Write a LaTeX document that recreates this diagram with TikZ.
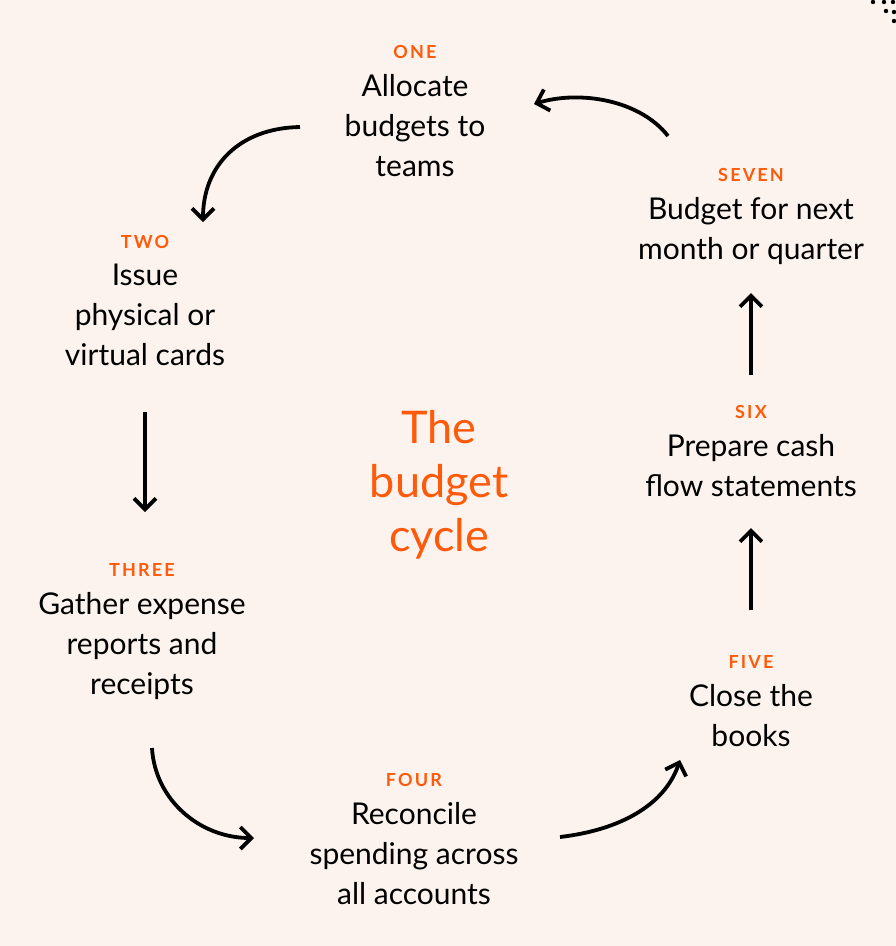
\documentclass[tikz,border=0pt]{standalone}
\usepackage{fontspec}
\setmainfont{Lato}
\usetikzlibrary{arrows.meta}
\definecolor{bg}{HTML}{FDF3EE}
\definecolor{orng}{HTML}{FF5A0A}
\begin{document}
\begin{tikzpicture}[x=1pt,y=-1pt,
  lbl/.style={font=\fontsize{18}{18}\selectfont\bfseries\addfontfeatures{LetterSpace=12}, text=orng, inner sep=0},
  txt/.style={font=\fontsize{30}{40}\selectfont, align=center, inner sep=0, anchor=north},
  arr/.style={line width=3.8pt, -{Straight Barb[length=11pt,width=22pt,line width=3.8pt]}}]
\fill[bg] (0,0) rectangle (896,946);
\useasboundingbox (0,0) rectangle (896,946);
\foreach \p in {(873,2),(884,2),(893,2),(886,11),(894,12),(894,21)} \fill \p circle (2.2);
\node[lbl] (l1) at (415,52) {ONE};
\node[txt] (t1) at (415,74) {Allocate\\budgets to\\teams};
\node[lbl] (l2) at (145,242) {TWO};
\node[txt] (t2) at (145,264) {Issue\\physical or\\virtual cards};
\node[lbl] (l3) at (142,570) {THREE};
\node[txt] (t3) at (142,592) {Gather expense\\reports and\\receipts};
\node[lbl] (l4) at (414,780) {FOUR};
\node[txt] (t4) at (414,802) {Reconcile\\spending across\\all accounts};
\node[lbl] (l5) at (751,662) {FIVE};
\node[txt] (t5) at (751,684) {Close the\\books};
\node[lbl] (l6) at (751,412) {SIX};
\node[txt] (t6) at (751,434) {Prepare cash\\flow statements};
\node[lbl] (l7) at (751,175) {SEVEN};
\node[txt] (t7) at (751,197) {Budget for next\\month or quarter};
\node[txt, text=orng, font=\fontsize{45}{54}\selectfont] (title) at (439,410) {The\\budget\\cycle};
\coordinate (a1s) at (300,127); \coordinate (a1e) at (203,222);
\draw[arr] (a1s) .. controls (240,128) and (203,165) .. (a1e);
\coordinate (a2s) at (145,412); \coordinate (a2e) at (145,512);
\draw[arr] (a2s) -- (a2e);
\coordinate (a3s) at (152,748); \coordinate (a3e) at (254,838);
\draw[arr] (a3s) .. controls (155,800) and (200,838) .. (a3e);
\coordinate (a4s) at (560,837); \coordinate (a4e) at (680,760);
\draw[arr] (a4s) .. controls (620,830) and (665,805) .. (a4e);
\coordinate (a5s) at (751,610); \coordinate (a5e) at (751,528);
\draw[arr] (a5s) -- (a5e);
\coordinate (a6s) at (751,375); \coordinate (a6e) at (751,293);
\draw[arr] (a6s) -- (a6e);
\coordinate (a7s) at (668,136); \coordinate (a7e) at (534,104);
\draw[arr] (a7s) .. controls (640,100) and (580,90) .. (a7e);
\end{tikzpicture}
\end{document}
